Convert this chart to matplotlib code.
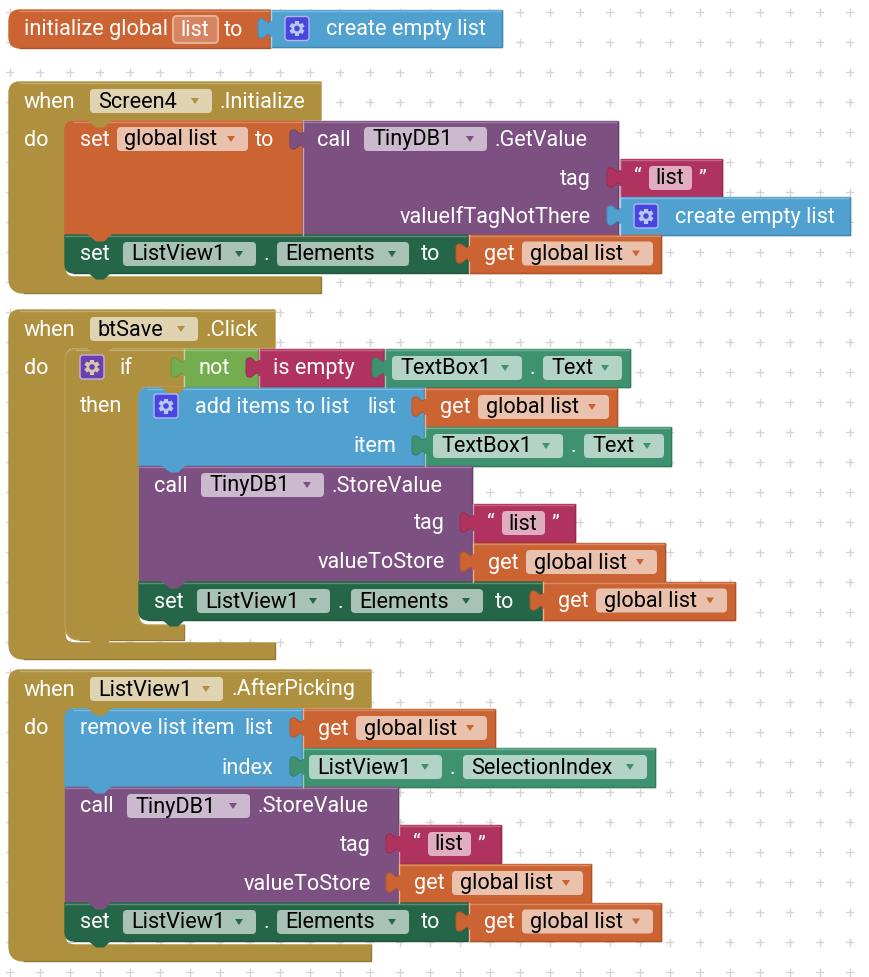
import matplotlib
matplotlib.use('Agg')
import matplotlib.pyplot as plt
from matplotlib.path import Path
from matplotlib.patches import PathPatch, Circle, FancyBboxPatch

plt.rcParams['font.family'] = ['Roboto', 'DejaVu Sans']

# block texts
global_name = "list"
global_getter = "global list"
empty_list = "create empty list"
screen = "Screen4"
button = "btSave"
listview = "ListView1"
textbox = "TextBox1"
tinydb = "TinyDB1"
prop_elements = "Elements"
prop_text = "Text"
prop_index = "SelectionIndex"
events = [".Initialize", ".Click", ".AfterPicking"]
db_methods = [".GetValue", ".StoreValue"]
db_args = ["tag", "valueIfTagNotThere", "valueToStore"]

MUSTARD = '#AE903F'
ORANGE = '#CB6333'
BLUE = '#50A1D0'
PURPLE = '#7D5082'
RED = '#B0325F'
TEAL = '#3F9270'
DKGREEN = '#266648'
LTGREEN = '#73AD4F'
FS = 15.6


def mix(c, other, t):
    a = matplotlib.colors.to_rgb(c)
    b = matplotlib.colors.to_rgb(other)
    return tuple(a[i] * (1 - t) + b[i] * t for i in range(3))


fig = plt.figure(figsize=(8.7, 9.77), dpi=100)
ax = fig.add_axes([0, 0, 1, 1])
ax.set_xlim(0, 870)
ax.set_ylim(977, 0)
ax.axis('off')

# workspace crosses
for gx in range(10, 870, 30):
    for gy in range(12, 977, 30):
        ax.plot([gx - 3.5, gx + 3.5], [gy, gy], color='#D4D4D4', lw=1, zorder=0)
        ax.plot([gx, gx], [gy - 3.5, gy + 3.5], color='#D4D4D4', lw=1, zorder=0)


def rounded(points, radii):
    # closed path through points, corners rounded with the given radii
    verts = []
    codes = []
    n = len(points)
    for i in range(n):
        p = points[i]
        r = radii[i]
        a = points[i - 1]
        b = points[(i + 1) % n]
        if r == 0:
            verts.append(p)
            codes.append(Path.LINETO)
            continue
        da = ((a[0] - p[0]) ** 2 + (a[1] - p[1]) ** 2) ** 0.5
        db = ((b[0] - p[0]) ** 2 + (b[1] - p[1]) ** 2) ** 0.5
        verts.append((p[0] + (a[0] - p[0]) * r / da, p[1] + (a[1] - p[1]) * r / da))
        codes.append(Path.LINETO)
        verts.append(p)
        codes.append(Path.CURVE3)
        verts.append((p[0] + (b[0] - p[0]) * r / db, p[1] + (b[1] - p[1]) * r / db))
        codes.append(Path.CURVE3)
    codes[0] = Path.MOVETO
    verts.append(verts[0])
    codes.append(Path.CLOSEPOLY)
    return Path(verts, codes)


def shape(points, radii, color, edge=None):
    if edge is None:
        edge = color
    ax.add_patch(PathPatch(rounded(points, radii), fc=color, ec=edge, lw=1, zorder=2))


def block(x0, y0, x1, y1, color, round_top=0, round_bot=0):
    x1 = x1 - 0.5
    shape([(x0, y0), (x1, y0), (x1, y1), (x0, y1)],
          [round_top, 0, 0, round_bot], color)
    ax.plot([x0 + round_top, x1], [y0 + 0.7, y0 + 0.7],
            color=mix(color, 'white', 0.25), lw=1, zorder=2)
    ax.plot([x0 + round_bot, x1, x1], [y1 - 0.3, y1 - 0.3, y0 + 1],
            color=mix(color, 'black', 0.16), lw=1, zorder=2)


def tab(x, y, color):
    # puzzle tab sticking out of the left side of a value block
    v = [(x + 1, y + 12), (x - 3, y + 13),
         (x - 5, y + 11), (x - 8, y + 9),
         (x - 13, y + 8), (x - 13, y + 13),
         (x - 13, y + 24),
         (x - 13, y + 29), (x - 8, y + 28),
         (x - 5, y + 26), (x - 3, y + 24),
         (x + 1, y + 25), (x + 1, y + 12)]
    c = [Path.MOVETO, Path.LINETO,
         Path.CURVE3, Path.CURVE3,
         Path.CURVE3, Path.CURVE3,
         Path.LINETO,
         Path.CURVE3, Path.CURVE3,
         Path.CURVE3, Path.CURVE3,
         Path.LINETO, Path.CLOSEPOLY]
    ax.add_patch(PathPatch(Path(v, c), fc=color, ec=mix(color, 'black', 0.12), lw=0.7, zorder=3))
    ax.plot([x + 0.5, x + 0.5], [y + 12, y + 25], color=color, lw=2, zorder=3)


def value(x0, y0, x1, y1, color):
    block(x0, y0, x1, y1, color)
    ax.plot([x0 + 0.5, x0 + 0.5], [y0, y1], color=mix(color, 'white', 0.5), lw=1, zorder=3)
    tab(x0, y0, color)


def notch(x0, y, color):
    # statement connector, hangs below y
    pts = [(x0 + 22, y - 1), (x0 + 47, y - 1), (x0 + 39, y + 6.5), (x0 + 31, y + 6.5)]
    ax.add_patch(plt.Polygon(pts, closed=True, fc=color, ec='none', zorder=5))


def hat(x0, y0, x_top, x_in, y_top, y_low, y1, x_bot, color=MUSTARD, edge=None):
    # C shaped block, x_top/y_top top bar, x_in column, y_low/y1 bottom bar
    pts = [(x0, y0), (x_top, y0), (x_top, y_top), (x_in, y_top), (x_in, y_low),
           (x_bot, y_low), (x_bot, y1), (x0, y1)]
    shape(pts, [11, 0, 0, 9, 9, 0, 0, 15], color, edge)
    ax.plot([x0 + 11, x_top], [y0 + 0.7, y0 + 0.7], color=mix(color, 'white', 0.25), lw=1, zorder=2)
    ax.plot([x0 + 15, x_bot, x_bot], [y1 - 0.3, y1 - 0.3, y_low],
            color=mix(color, 'black', 0.16), lw=1, zorder=2)


def label(x, yc, s, ha='left', color='white'):
    ax.text(x, yc + 6.5, s, ha=ha, va='baseline', color=color, fontsize=FS, zorder=7)


def field(x0, x1, yc, s, color, arrow=True, pad=8):
    # dropdown field, text in black and small triangle in block colour
    box = FancyBboxPatch((x0 + 4, yc - 8), x1 - x0 - 8, 16, boxstyle='round,pad=4',
                         fc=mix(color, 'white', 0.6), ec='none', zorder=6)
    ax.add_patch(box)
    ax.text(x0 + pad, yc + 6.5, s, ha='left', va='baseline', color='black', fontsize=FS, zorder=7)
    if arrow:
        ax.add_patch(plt.Polygon([(x1 - 21, yc - 3), (x1 - 13, yc - 3), (x1 - 17, yc + 3)],
                                 closed=True, fc=color, ec='none', zorder=7))


def gear(xc, yc, base):
    ax.add_patch(FancyBboxPatch((xc - 9, yc - 9), 18, 18, boxstyle='round,pad=3',
                                fc=base, ec=mix(base, 'white', 0.6), lw=1, zorder=6))
    teeth = '#B8C8F0' if base == '#4747E0' else '#D8C8B0'
    for dx, dy in [(0, 7.5), (6.5, 3.8), (6.5, -3.8)]:
        ax.plot([xc - dx, xc + dx], [yc - dy, yc + dy], color=teeth, lw=3,
                solid_capstyle='butt', zorder=7)
    ax.add_patch(Circle((xc, yc), 5.5, fc=teeth, ec='none', zorder=7))
    ax.add_patch(Circle((xc, yc), 2.8, fc=base, ec='none', zorder=8))


def get_block(x0, y0, w=193, h=39):
    value(x0, y0, x0 + w, y0 + h, ORANGE)
    yc = y0 + h / 2 - 0.5
    label(x0 + 15, yc, "get")
    field(x0 + 53, x0 + w - 9, yc, global_getter, ORANGE)


def text_block(x0, y0):
    value(x0, y0, x0 + 103, y0 + 38, RED)
    yc = y0 + 19
    label(x0 + 14, yc, "\u201c")
    field(x0 + 29, x0 + 72, yc, global_name, RED, arrow=False, pad=6.5)
    label(x0 + 78, yc, "\u201d")


def empty_block(x0, y0, x1, y1):
    value(x0, y0, x1, y1, BLUE)
    yc = (y0 + y1) / 2
    gear(x0 + 26, yc, '#4747E0')
    label(x0 + 55, yc, empty_list)


def comp_prop(x0, yc, comp, w1, prop, w2, color):
    # component dropdown . property dropdown
    field(x0, x0 + w1, yc, comp, color)
    label(x0 + w1 + 8, yc, ".")
    field(x0 + w1 + 21, x0 + w1 + 21 + w2, yc, prop, color)


def store_call(x0, y0, w_args):
    # TinyDB1.StoreValue with its two sockets
    x1 = x0 + w_args
    block(x0, y0, x1, y0 + 116, PURPLE)
    label(x0 + 15, y0 + 19, "call")
    field(x0 + 62, x0 + 185, y0 + 19, tinydb, PURPLE)
    label(x0 + 193, y0 + 19, db_methods[1])
    label(x1 - 28, y0 + 57, db_args[0], ha='right')
    text_block(x1, y0 + 38)
    label(x1 - 28, y0 + 96, db_args[2], ha='right')
    get_block(x1, y0 + 77)


def set_elements(x0, y0):
    block(x0, y0, x0 + 404, y0 + 38, DKGREEN, 0, 9)
    yc = y0 + 19
    label(x0 + 15, yc, "set")
    comp_prop(x0 + 58, yc, listview, 133, prop_elements, 132, DKGREEN)
    label(x0 + 356, yc, "to")
    get_block(x0 + 404, y0, h=38)


# initialize global
block(9, 10, 271, 48, ORANGE, 11, 11)
label(24, 29, "initialize global")
ax.add_patch(FancyBboxPatch((177, 20), 37, 19, boxstyle='round,pad=4',
                            fc=mix(ORANGE, 'white', 0.22), ec=mix(ORANGE, 'white', 0.5), lw=1.5, zorder=6))
label(180.5, 29, global_name)
label(224, 29, "to")
empty_block(271, 10, 503, 47)

# when Screen4.Initialize
hat(9, 82, 321, 65, 120, 277, 293, 321)
label(24, 101, "when")
field(90, 212, 101, screen, MUSTARD)
label(220, 101, events[0])
label(24, 139, "do")
block(65, 121, 303, 235, ORANGE, 9, 0)
label(80, 139, "set")
field(117, 248, 139, global_getter, ORANGE, pad=7)
label(255, 139, "to")
block(303, 121, 619, 235, PURPLE)
ax.plot([303.5, 303.5], [121, 235], color=mix(PURPLE, 'white', 0.5), lw=1, zorder=3)
tab(303, 121, PURPLE)
label(317, 139, "call")
field(364, 487, 139, tinydb, PURPLE)
label(495, 139, db_methods[0])
label(591, 178, db_args[0], ha='right')
text_block(620, 159)
label(591, 217, db_args[1], ha='right')
empty_block(620, 197, 851, 235)
set_elements(65, 235)
notch(65, 121, MUSTARD)
notch(65, 235, ORANGE)
notch(65, 273, DKGREEN)

# when btSave.Click
hat(9, 310, 275, 65, 348, 643, 659, 275)
label(24, 329, "when")
field(90, 198, 329, button, MUSTARD)
label(206, 329, events[1])
label(24, 367, "do")
hat(65, 349, 184, 139, 387, 625, 640, 184, edge=mix(MUSTARD, 'white', 0.12))
gear(92, 367, '#6A3FB0')
label(120, 367, "if")
value(184, 349, 259, 387, LTGREEN)
label(199, 367.5, "not")
value(259, 349, 385, 387, RED)
label(273, 367.5, "is empty")
value(385, 349, 631, 387, TEAL)
comp_prop(392, 368, textbox, 130, prop_text, 79, TEAL)
label(80, 405, "then")
block(139, 388, 425, 466, BLUE, 9, 0)
gear(166, 406, '#4747E0')
label(195, 406.5, "add items to list")
label(396, 406.5, "list", ha='right')
get_block(425, 388)
label(396, 445, "item", ha='right')
value(425, 427, 672, 466, TEAL)
comp_prop(433, 446, textbox, 130, prop_text, 80, TEAL)
store_call(139, 466, 334)
set_elements(139, 582)
notch(65, 349, MUSTARD)
notch(139, 388, MUSTARD)
notch(139, 466, BLUE)
notch(139, 582, PURPLE)
notch(139, 620, DKGREEN)
notch(65, 640, MUSTARD)

# when ListView1.AfterPicking
hat(9, 670, 371, 65, 708, 945, 961, 371)
label(24, 689, "when")
field(90, 223, 689, listview, MUSTARD)
label(232, 689, events[2])
label(24, 727, "do")
block(65, 709, 303, 787, BLUE, 9, 0)
label(80, 728, "remove list item")
label(273, 728, "list", ha='right')
get_block(303, 709)
label(273, 767, "index", ha='right')
value(303, 748, 656, 787, TEAL)
comp_prop(309, 767, listview, 133, prop_index, 184, TEAL)
store_call(65, 787, 334)
set_elements(65, 903)
notch(65, 709, MUSTARD)
notch(65, 787, BLUE)
notch(65, 903, PURPLE)
notch(65, 941, DKGREEN)

fig.savefig('out.png', dpi=100)
